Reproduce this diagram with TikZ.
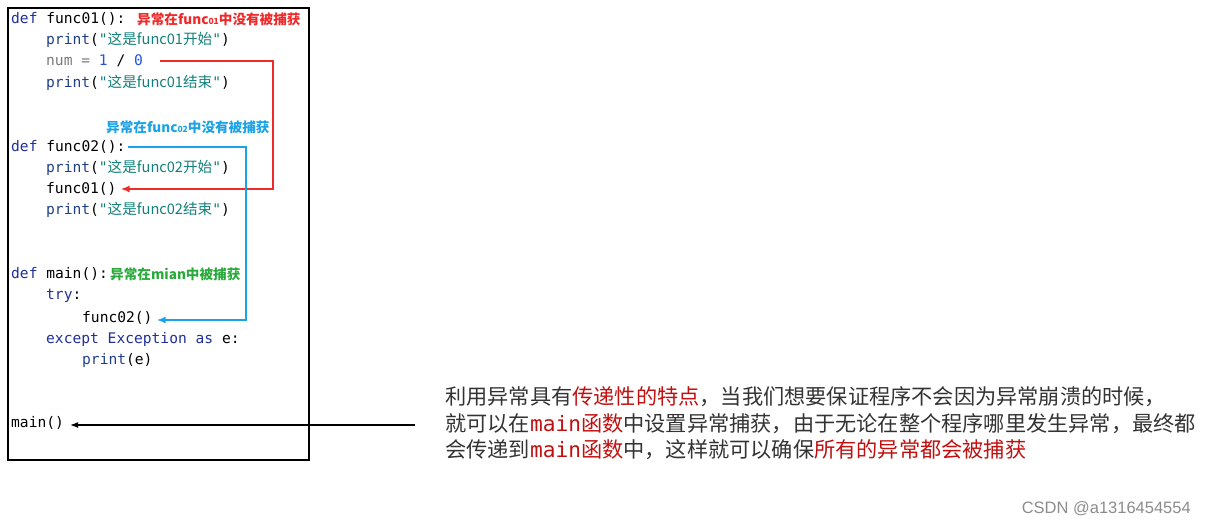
\documentclass[tikz,border=0pt]{standalone}
\usepackage{fontspec}
\setmainfont{Liberation Sans}
\setmonofont{DejaVu Sans Mono}
\newfontfamily\cjk{Noto Sans CJK SC}
\usetikzlibrary{arrows.meta}
\definecolor{kw}{HTML}{1F2F9A}
\definecolor{str}{HTML}{12807A}
\definecolor{fn}{HTML}{1F3F8A}
\definecolor{num}{HTML}{2255DD}
\definecolor{grey}{HTML}{7A7A7A}
\definecolor{redarr}{HTML}{EE2A2A}
\definecolor{bluearr}{HTML}{1AA3E6}
\definecolor{greenlab}{HTML}{2BAA3C}
\definecolor{note}{HTML}{333333}
\definecolor{hl}{HTML}{C01010}
\tikzset{
  code/.style={anchor=west, inner sep=0pt, font=\ttfamily\fontsize{14.6pt}{16pt}\selectfont},
  lbl/.style={anchor=west, inner sep=0pt, font=\cjk\bfseries\fontsize{13.6pt}{15pt}\selectfont},
  para/.style={anchor=west, inner sep=0pt, text=note, font=\cjk\fontsize{21.2pt}{23pt}\selectfont},
  flow/.style={line width=1.6pt, -{Latex[length=9pt,width=7pt]}},
}
\newcommand{\kw}[1]{\textcolor{kw}{#1}}
\newcommand{\zh}[1]{{\cjk #1}}
\newcommand{\pstr}[1]{\textcolor{str}{"\zh{#1}"}}
\begin{document}
\begin{tikzpicture}[x=1pt,y=-1pt]
  \useasboundingbox (0,0) rectangle (1206,525);
  \draw[line width=2.5pt] (8,8) rectangle (309,460);
  % func01
  \node[code] (d1) at (11,19) {\kw{def} func01():};
  \node[code] (p1) at (46,40) {\textcolor{fn}{print}(\pstr{这是func01开始})};
  \node[code] (n1) at (46,61) {\textcolor{grey}{num = }\textcolor{num}{1} / \textcolor{num}{0}};
  \node[code] (q1) at (46,83) {\textcolor{fn}{print}(\pstr{这是func01结束})};
  % func02
  \node[code] (d2) at (11,147) {\kw{def} func02():};
  \node[code] (p2) at (46,168) {\textcolor{fn}{print}(\pstr{这是func02开始})};
  \node[code] (c1) at (46,189) {func01()};
  \node[code] (q2) at (46,210) {\textcolor{fn}{print}(\pstr{这是func02结束})};
  % main
  \node[code] (d3) at (11,274) {\kw{def} main():};
  \node[code] (t3) at (46,296) {\kw{try}:};
  \node[code] (c2) at (82,318) {func02()};
  \node[code] (e3) at (46,339) {\kw{except} \kw{Exception} \kw{as} e:};
  \node[code] (r3) at (82,360) {\textcolor{fn}{print}(e)};
  \node[code] (m) at (11,423) {main()};
  % labels
  \node[lbl,text=redarr] (l1) at (137,19) {异常在func{\fontsize{8.5pt}{9pt}\selectfont 01}中没有被捕获};
  \node[lbl,text=bluearr] (l2) at (106,127) {异常在func{\fontsize{8.5pt}{9pt}\selectfont 02}中没有被捕获};
  \node[lbl,text=greenlab] (l3) at (110,274) {异常在mian中被捕获};
  % arrows
  \coordinate (r0) at (160,61);
  \coordinate (r1) at (273,61);
  \coordinate (r2) at (273,189);
  \draw[flow,redarr] (r0) -- (r1) -- (r2) -- ([xshift=4pt]c1.east |- r2);
  \coordinate (b0) at (128,147);
  \coordinate (b1) at (246,147);
  \coordinate (b2) at (246,320);
  \draw[flow,bluearr] (b0) -- (b1) -- (b2) -- ([xshift=4pt]c2.east |- b2);
  \coordinate (k0) at (415,425);
  \draw[line width=1.1pt,-{Latex[length=8pt,width=6pt]}] (k0) -- ([xshift=6pt]m.east |- k0);
  % note
  \node[para] (t1) at (445,397) {利用异常具有\textcolor{hl}{传递性的特点}，当我们想要保证程序不会因为异常崩溃的时候，};
  \node[para] (t2) at (445,424) {就可以在\textcolor{hl}{{\ttfamily main}函数}中设置异常捕获，由于无论在整个程序哪里发生异常，最终都};
  \node[para] (t3) at (445,450) {会传递到\textcolor{hl}{{\ttfamily main}函数}中，这样就可以确保\textcolor{hl}{所有的异常都会被捕获}};
  \node[anchor=east, inner sep=0pt, text=black!45, font=\fontsize{16.5pt}{18pt}\selectfont] (wm) at (1191,509) {CSDN @a1316454554};
\end{tikzpicture}
\end{document}
